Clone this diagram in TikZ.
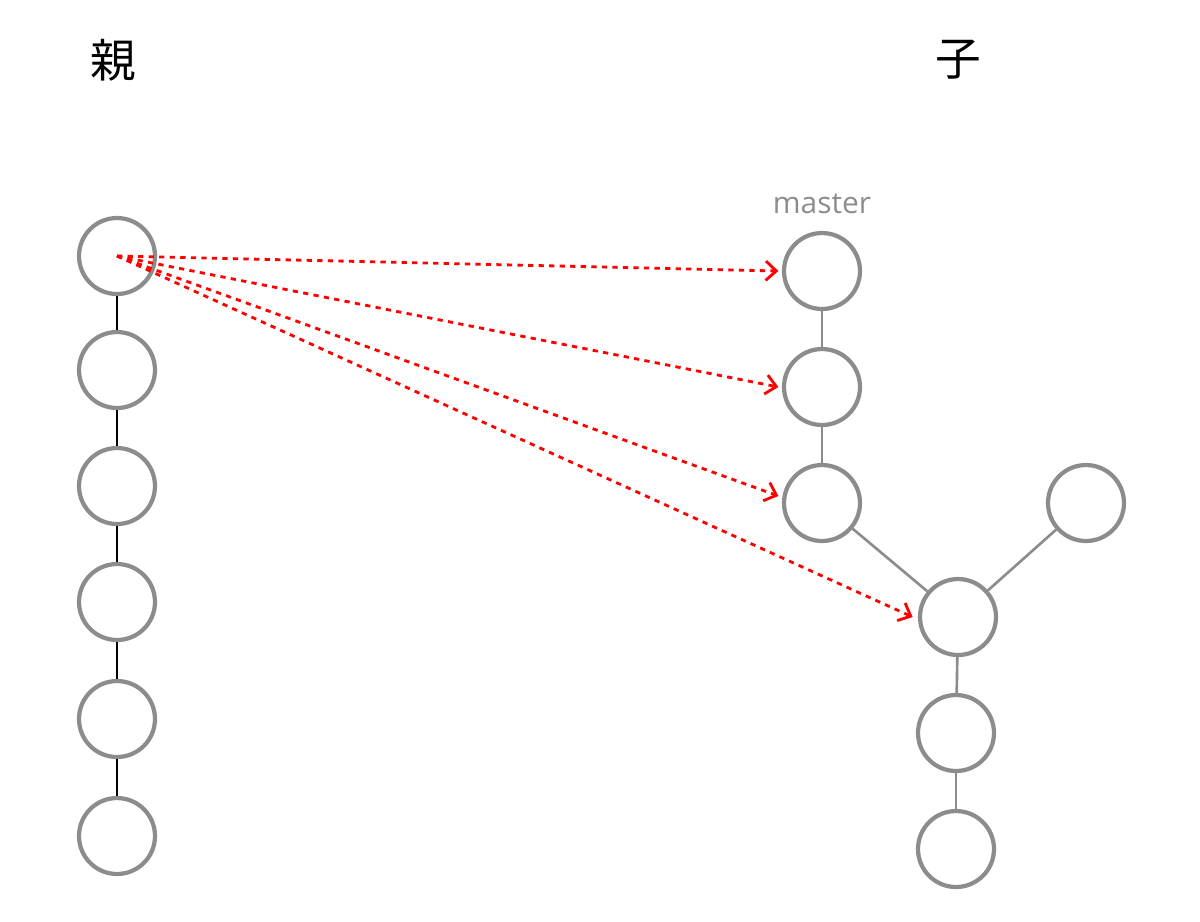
\documentclass[tikz,border=0pt]{standalone}
\usepackage{fontspec}
\setmainfont{Open Sans}
\newfontfamily\cjk{Noto Sans CJK JP}
\usetikzlibrary{arrows.meta}
\begin{document}
\begin{tikzpicture}[x=0.02cm,y=-0.02cm,
  commit/.style={circle,draw=gray!90,line width=2.4pt,minimum size=1.52cm,inner sep=0},
  ll/.style={line width=1.5pt,black},
  rl/.style={line width=1.5pt,gray!90},
  ar/.style={red,dashed,line width=1.6pt,-{Straight Barb[length=6pt,width=11pt]}}]
\useasboundingbox (0,0) rectangle (1200,921);
\node[font=\cjk\fontsize{26}{30}\selectfont] (oya) at (113,60) {親};
\node[font=\cjk\fontsize{26}{30}\selectfont] (ko) at (958,60) {子};
\foreach \i/\y in {1/256,2/370,3/486,4/602,5/719,6/836} \node[commit] (l\i) at (117,\y) {};
\foreach \a/\b in {1/2,2/3,3/4,4/5,5/6} \draw[ll] (l\a) -- (l\b);
\node[commit] (m1) at (822,271) {};
\node[commit] (m2) at (822,387) {};
\node[commit] (m3) at (822,503) {};
\node[commit] (b) at (958,617) {};
\node[commit] (s) at (1086,503) {};
\node[commit] (c1) at (956,733) {};
\node[commit] (c2) at (956,849) {};
\node[text=gray!90,font=\fontsize{17}{20}\selectfont] (mst) at (822,204) {master};
\draw[rl] (m1)--(m2); \draw[rl] (m2)--(m3); \draw[rl] (m3)--(b);
\draw[rl] (s)--(b); \draw[rl] (b)--(c1); \draw[rl] (c1)--(c2);
\coordinate (o) at (117,256);
\draw[ar] (o) -- ([xshift=-2pt]m1.west);
\draw[ar] (o) -- ([xshift=-2pt]m2.west);
\draw[ar] (o) -- ([yshift=4pt,xshift=-2pt]m3.west);
\draw[ar] (o) -- ([xshift=-3pt]b.west);
\end{tikzpicture}
\end{document}
